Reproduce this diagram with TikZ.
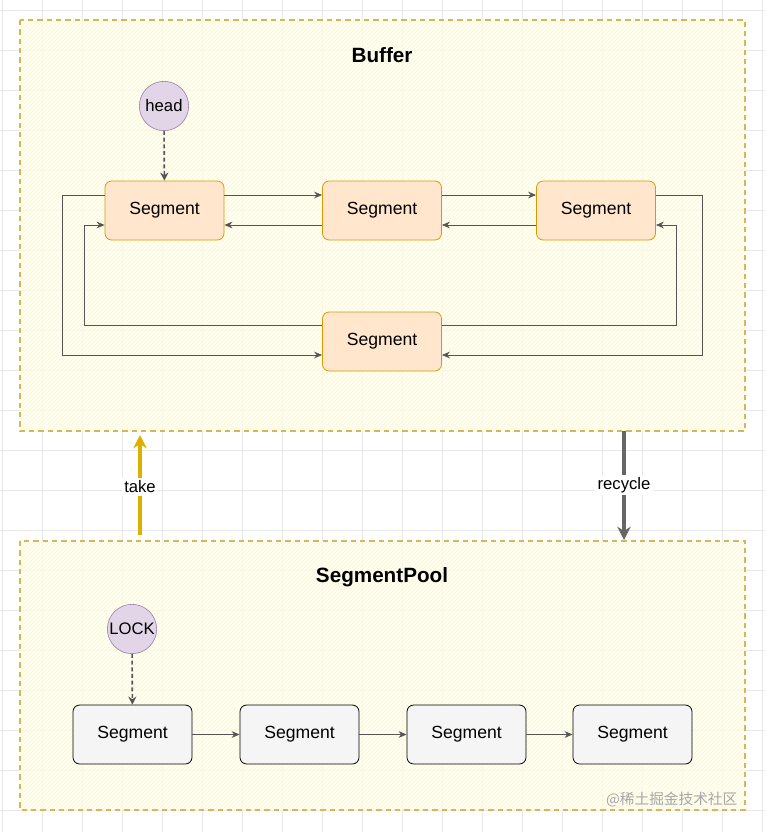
\documentclass[tikz,border=0pt]{standalone}
\usepackage{fontspec}
\setmainfont{Liberation Sans}
\newfontfamily\cjk{Noto Sans CJK SC}
\usetikzlibrary{patterns,arrows.meta}
\definecolor{gold}{HTML}{D6B656}
\definecolor{segfill}{HTML}{FFE6CC}
\definecolor{segdraw}{HTML}{D79B00}
\definecolor{circfill}{HTML}{E1D5E7}
\definecolor{circdraw}{HTML}{9673A6}
\definecolor{lnk}{HTML}{555555}
\begin{document}
\begin{tikzpicture}[x=0.75pt,y=-0.75pt,
 seg/.style={draw=segdraw,fill=segfill,rounded corners=5pt,minimum width=89.25pt,minimum height=44.25pt,font=\fontsize{13.2}{15}\selectfont,line width=0.6pt},
 pseg/.style={draw=black,fill=gray!8,rounded corners=5pt,minimum width=89.25pt,minimum height=44.25pt,font=\fontsize{13.2}{15}\selectfont,line width=0.6pt},
 circ/.style={circle,draw=circdraw,fill=circfill,minimum size=37pt,inner sep=0pt,font=\fontsize{12.5}{14}\selectfont},
 area/.style={draw=gold,dashed,line width=1.2pt,dash pattern=on 4pt off 3pt},
 lk/.style={draw=lnk,line width=0.6pt,-{Stealth[length=6pt,width=5pt]}},
 dlk/.style={draw=lnk,line width=1.2pt,dashed,dash pattern=on 3pt off 2pt,-{Stealth[length=6pt,width=6pt]}}]
\useasboundingbox (0,0) rectangle (765,832);
\fill[white] (0,0) rectangle (765,832);
\foreach \x in {2,42,...,762} \draw[gray!18,line width=0.5pt] (\x,0) -- (\x,832);
\foreach \y in {10,50,...,830} \draw[gray!18,line width=0.5pt] (0,\y) -- (765,\y);
% areas
\fill[yellow!6,opacity=0.7] (20,20) rectangle (745,431);
\fill[pattern=north east lines,pattern color=yellow!35] (20,20) rectangle (745,431);
\draw[area] (20,20) rectangle (745,431);
\fill[yellow!6,opacity=0.7] (20,541) rectangle (745,810);
\fill[pattern=north east lines,pattern color=yellow!35] (20,541) rectangle (745,810);
\draw[area] (20,541) rectangle (745,810);
\node[font=\bfseries\fontsize{15.5}{18}\selectfont] (tb) at (382,55) {Buffer};
\node[font=\bfseries\fontsize{15.5}{18}\selectfont] (tp) at (382,577) {SegmentPool};
% buffer
\node[seg] (s1) at (164.5,210.5) {Segment};
\node[seg] (s2) at (382,210.5) {Segment};
\node[seg] (s3) at (596,210.5) {Segment};
\node[seg] (s4) at (382,341.5) {Segment};
\node[circ] (head) at (164,106) {head};
\draw[dlk] (head) -- (s1);
\draw[lk] (s1.east|-0,195) -- (s2.west|-0,195);
\draw[lk] (s2.west|-0,225) -- (s1.east|-0,225);
\draw[lk] (s2.east|-0,195) -- (s3.west|-0,195);
\draw[lk] (s3.west|-0,225) -- (s2.east|-0,225);
\draw[lk] (s1.west|-0,195) -- (62,195) -- (62,355) -- (s4.west|-0,355);
\draw[lk] (s4.west|-0,325) -- (84,325) -- (84,225) -- (s1.west|-0,225);
\draw[lk] (s3.east|-0,195) -- (702,195) -- (702,355) -- (s4.east|-0,355);
\draw[lk] (s4.east|-0,325) -- (676,325) -- (676,225) -- (s3.east|-0,225);
% transfer arrows
\coordinate (tk0) at (140,535); \coordinate (tk1) at (140,435);
\draw[draw=segdraw!80!yellow,line width=2.6pt,-{Stealth[length=10pt,width=10pt]}] (tk0) -- (tk1);
\node[fill=white,inner sep=2pt,font=\fontsize{12.5}{14}\selectfont] (tkl) at (140,487) {take};
\coordinate (rc0) at (624,431); \coordinate (rc1) at (624,540);
\draw[draw=lnk!90,line width=2.6pt,-{Stealth[length=10pt,width=10pt]}] (rc0) -- (rc1);
\node[fill=white,inner sep=2pt,font=\fontsize{12.5}{14}\selectfont] (rcl) at (624,485) {recycle};
% pool
\node[pseg] (p1) at (132.5,734.5) {Segment};
\node[pseg] (p2) at (299.5,734.5) {Segment};
\node[pseg] (p3) at (466.5,734.5) {Segment};
\node[pseg] (p4) at (632.5,734.5) {Segment};
\node[circ] (lock) at (132,629) {LOCK};
\draw[dlk] (lock) -- (p1);
\draw[lk] (p1) -- (p2);
\draw[lk] (p2) -- (p3);
\draw[lk] (p3) -- (p4);
\node[text=gray!70,font=\cjk\fontsize{11}{13}\selectfont,anchor=east] (wm) at (742,800) {@稀土掘金技术社区};
\end{tikzpicture}
\end{document}
